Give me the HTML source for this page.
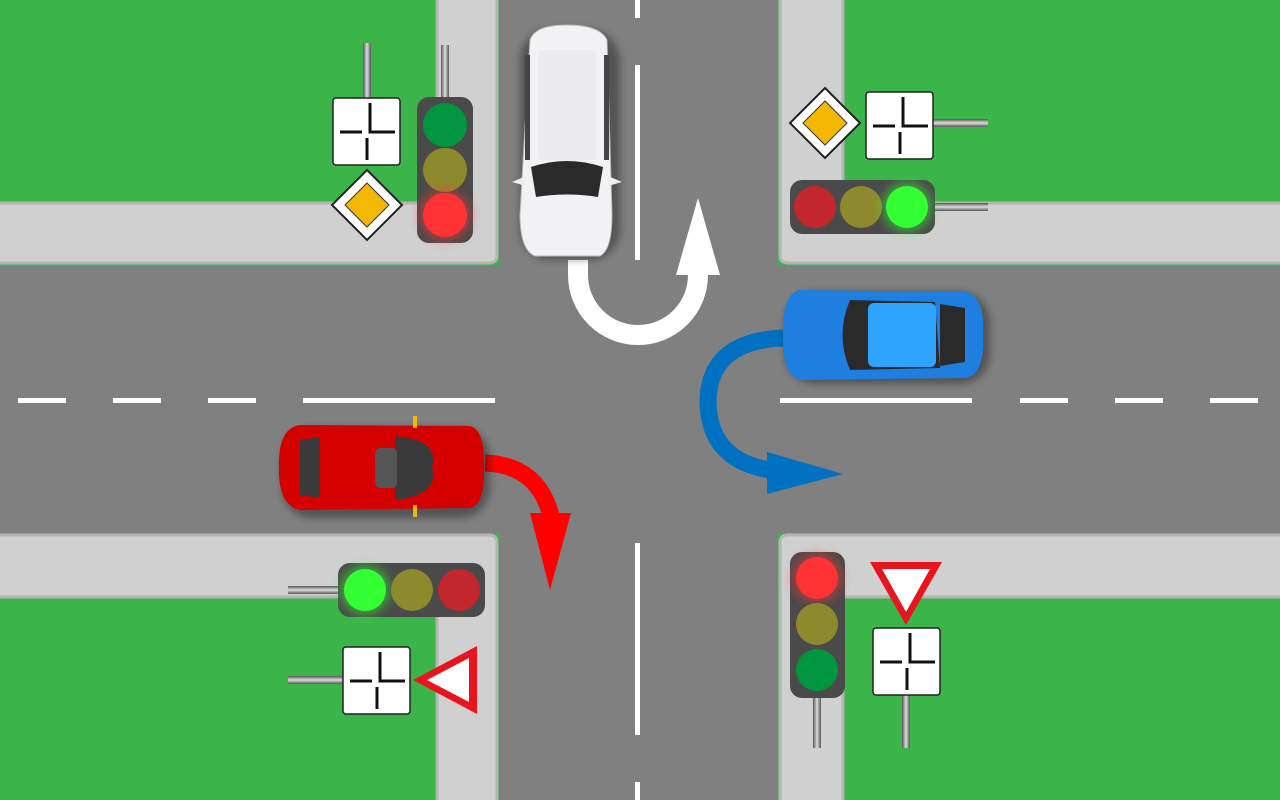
<!DOCTYPE html>
<html><head><meta charset="utf-8"><style>html,body{margin:0;padding:0;width:1280px;height:800px;overflow:hidden;background:#3bb54a}</style></head>
<body>
<svg width="1280" height="800" viewBox="0 0 1280 800" xmlns="http://www.w3.org/2000/svg">
<defs>
<filter id="sh" x="-20%" y="-20%" width="140%" height="140%"><feGaussianBlur stdDeviation="4"/></filter>
<filter id="gl" x="-50%" y="-50%" width="200%" height="200%"><feGaussianBlur stdDeviation="5"/></filter>
<linearGradient id="pole" x1="0" x2="1"><stop offset="0" stop-color="#555"/><stop offset=".5" stop-color="#ddd"/><stop offset="1" stop-color="#555"/></linearGradient>
<linearGradient id="poleh" x1="0" x2="0" y1="0" y2="1"><stop offset="0" stop-color="#555"/><stop offset=".5" stop-color="#ddd"/><stop offset="1" stop-color="#555"/></linearGradient>
</defs>
<rect width="1280" height="800" fill="#3bb54a"/>
<g fill="#d0d0d0" stroke="#b4b4b4" stroke-width="3">
<path d="M437,-5 V203 H-5 V263 H489 Q497,263 497,255 V-5 Z"/>
<path d="M843,-5 V203 H1285 V263 H788 Q780,263 780,255 V-5 Z"/>
<path d="M437,805 V597 H-5 V535 H489 Q497,535 497,543 V805 Z"/>
<path d="M843,805 V597 H1285 V535 H788 Q780,535 780,543 V805 Z"/>
</g>
<rect x="0" y="265" width="1280" height="268" fill="#808080"/>
<rect x="499" y="0" width="279" height="800" fill="#808080"/>
<g fill="#fff">
<rect x="635" y="0" width="5" height="18"/><rect x="635" y="65" width="5" height="195"/>
<rect x="635" y="543" width="5" height="192"/><rect x="635" y="782" width="5" height="18"/>
<rect x="18" y="398" width="48" height="5"/><rect x="113" y="398" width="48" height="5"/><rect x="208" y="398" width="48" height="5"/><rect x="303" y="398" width="192" height="5"/>
<rect x="780" y="398" width="192" height="5"/><rect x="1020" y="398" width="48" height="5"/><rect x="1115" y="398" width="48" height="5"/><rect x="1210" y="398" width="48" height="5"/>
</g>
<path d="M578,260 V275 A60,60 0 0 0 698,275 V268" fill="none" stroke="#fff" stroke-width="20"/>
<polygon points="698,198 720,275 676,275" fill="#fff"/>
<path d="M785,338 Q710,340 708,400 Q708,460 770,470" fill="none" stroke="#0070c0" stroke-width="17"/>
<polygon points="843,474 767,452 767,494" fill="#0070c0"/>
<path d="M485,463 Q540,465 552,520" fill="none" stroke="#f00" stroke-width="17"/>
<polygon points="550,590 530,513 571,513" fill="#f00"/>
<!-- white car -->
<g>
<rect x="520" y="30" width="100" height="230" rx="30" fill="#000" opacity=".35" filter="url(#sh)"/>
<path d="M530,40 Q535,25 567,25 Q600,25 607,40 L612,215 Q612,250 600,256 L535,256 Q520,250 520,215 Z" fill="#f2f2f4" stroke="#bbb"/>
<path d="M525,55 L525,160 L530,160 L530,55 Z M609,55 L609,160 L604,160 L604,55 Z" fill="#444"/>
<rect x="538" y="50" width="58" height="110" rx="4" fill="#ececee"/>
<path d="M531,167 Q567,155 603,167 L598,197 Q567,192 536,197 Z" fill="#2a2a2a"/>
<path d="M512,182 L526,176 L526,186 Z M622,182 L608,176 L608,186 Z" fill="#eee"/>
</g>
<!-- blue car -->
<g>
<rect x="785" y="292" width="205" height="92" rx="30" fill="#000" opacity=".35" filter="url(#sh)"/>
<path d="M800,290 L965,292 Q985,295 983,335 Q985,375 965,378 L800,380 Q782,375 783,335 Q782,293 800,290 Z" fill="#1e7fe0"/>
<path d="M850,300 L935,302 L940,368 L850,370 Q835,335 850,300 Z" fill="#2a2a2a"/>
<rect x="868" y="303" width="68" height="64" rx="6" fill="#2ea4ff"/>
<path d="M940,304 L965,308 L965,362 L940,366 Z" fill="#2a2a2a"/>
</g>
<!-- red car -->
<g>
<rect x="282" y="428" width="208" height="90" rx="30" fill="#000" opacity=".35" filter="url(#sh)"/>
<path d="M300,425 L470,426 Q485,430 484,467 Q485,505 470,508 L300,510 Q278,505 279,467 Q278,428 300,425 Z" fill="#d40000"/>
<path d="M395,436 Q440,440 432,467 Q440,495 395,500 Z" fill="#3a3a3a"/>
<path d="M300,440 L320,437 L320,498 L300,495 Z" fill="#3a3a3a"/>
<rect x="375" y="448" width="22" height="40" rx="5" fill="#555"/>
<rect x="413" y="416" width="4" height="12" fill="#f5b800"/><rect x="413" y="505" width="4" height="12" fill="#f5b800"/>
</g>
<rect x="363" y="43" width="8" height="60" fill="url(#pole)"/>
<rect x="441" y="45" width="8" height="55" fill="url(#pole)"/>
<rect x="930" y="119" width="58" height="8" fill="url(#poleh)"/>
<rect x="930" y="203" width="58" height="8" fill="url(#poleh)"/>
<rect x="288" y="586" width="52" height="8" fill="url(#poleh)"/>
<rect x="288" y="676" width="58" height="8" fill="url(#poleh)"/>
<rect x="813" y="695" width="8" height="53" fill="url(#pole)"/>
<rect x="902" y="692" width="8" height="56" fill="url(#pole)"/>
<g id="sq">
<rect x="333" y="98" width="67" height="67" rx="3" fill="#fff" stroke="#222" stroke-width="1.5"/>
<path d="M370,103 V132 H395 M340,132 H362 M367,138 V160" stroke="#111" stroke-width="3" fill="none"/>
</g>
<use href="#sq" x="533" y="-6"/>
<use href="#sq" x="10" y="549"/>
<use href="#sq" x="540" y="530"/>
<g id="dia"><polygon points="367,170 402,205 367,240 332,205" fill="#fff" stroke="#222" stroke-width="2"/>
<polygon points="367,183 389,205 367,227 345,205" fill="#f5b800" stroke="#333" stroke-width="1"/></g>
<use href="#dia" x="458" y="-82"/>
<polygon points="413,680 477,646 477,714" fill="#e8141e"/><polygon points="427,680 469,658 469,702" fill="#fff"/>
<polygon points="870,562 942,562 906,625" fill="#e8141e"/><polygon points="882,569 930,569 906,612" fill="#fff"/>
<rect x="417" y="97" width="56" height="146" rx="12" fill="#4a4a4a"/>
<circle cx="445" cy="125" r="22" fill="#009640"/><circle cx="445" cy="170" r="22" fill="#8d8a2e"/>
<circle cx="445" cy="215" r="26" fill="#ff3030" opacity=".5" filter="url(#gl)"/><circle cx="445" cy="215" r="22" fill="#f33"/>
<rect x="790" y="180" width="145" height="54" rx="12" fill="#4a4a4a"/>
<circle cx="815" cy="207" r="21" fill="#c1272d"/><circle cx="861" cy="207" r="21" fill="#8d8a2e"/>
<circle cx="907" cy="207" r="25" fill="#3f3" opacity=".5" filter="url(#gl)"/><circle cx="907" cy="207" r="21" fill="#3f3"/>
<rect x="338" y="563" width="147" height="54" rx="12" fill="#4a4a4a"/>
<circle cx="365" cy="590" r="25" fill="#3f3" opacity=".5" filter="url(#gl)"/><circle cx="365" cy="590" r="21" fill="#3f3"/>
<circle cx="412" cy="590" r="21" fill="#8d8a2e"/><circle cx="459" cy="590" r="21" fill="#c1272d"/>
<rect x="790" y="552" width="55" height="146" rx="12" fill="#4a4a4a"/>
<circle cx="817" cy="578" r="25" fill="#ff3030" opacity=".5" filter="url(#gl)"/><circle cx="817" cy="578" r="21" fill="#f33"/>
<circle cx="817" cy="624" r="21" fill="#8d8a2e"/><circle cx="817" cy="670" r="21" fill="#009640"/>
</svg>
</body></html>
